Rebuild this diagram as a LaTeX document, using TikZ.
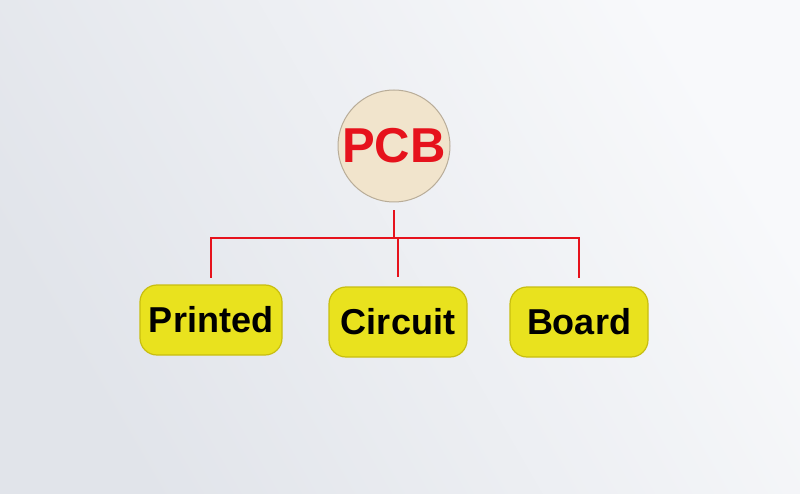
\documentclass[tikz,border=0pt]{standalone}
\usepackage{fontspec}
\setmainfont{Liberation Sans}
\definecolor{bgdark}{HTML}{E1E4EA}
\definecolor{bglight}{HTML}{F8F9FB}
\definecolor{pcbred}{HTML}{E6121C}
\definecolor{wood}{HTML}{F1E4CC}
\definecolor{woodedge}{HTML}{B8AC98}
\definecolor{tag}{HTML}{E9E21E}
\definecolor{tagedge}{HTML}{C8BE10}
\begin{document}
\begin{tikzpicture}[x=1pt,y=-1pt,
  tagbox/.style={rectangle, rounded corners=17pt, fill=tag, draw=tagedge, line width=1.2pt,
     minimum width=140pt, minimum height=70pt, inner sep=0pt,
     font=\fontsize{36}{40}\selectfont\bfseries, text=black},
  link/.style={draw=pcbred, line width=2.8pt}]
\shade[left color=bglight, right color=bgdark, shading angle=-60] (0,0) rectangle (800,494);
\useasboundingbox (0,0) rectangle (800,494);
\node[circle, fill=wood, draw=woodedge, line width=1pt, minimum size=112pt, inner sep=0pt,
      text=pcbred, font=\fontsize{49}{52}\selectfont\bfseries] (pcb) at (394,146) {PCB};
\node[tagbox, minimum width=142pt] (printed) at (211,320) {Printed};
\node[tagbox, minimum width=138pt] (circuit) at (398,322) {Circuit};
\node[tagbox, minimum width=138pt] (board) at (579,322) {Board};
\coordinate (jc) at (pcb.center |- 0,238);
\coordinate (jl) at (printed.center |- 0,238);
\coordinate (jr) at (board.center |- 0,238);
\draw[link, shorten <=8pt, shorten >=9pt] (pcb.south) -- (jc) -- (jc -| circuit.north) -- (circuit.north);
\draw[link, line cap=rect] (jl) -- (jr);
\draw[link, shorten >=6pt] (jl) -- (printed.north);
\draw[link, shorten >=8pt] (jr) -- (board.north);
\end{tikzpicture}
\end{document}
